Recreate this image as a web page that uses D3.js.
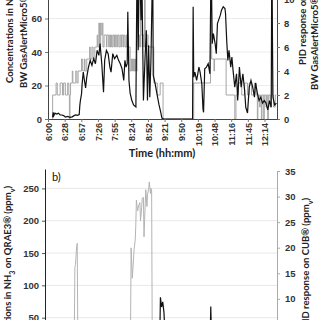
<!DOCTYPE html>
<html>
<head>
<meta charset="utf-8">
<title>NH3 and PID time series</title>
<script src="https://cdn.jsdelivr.net/npm/d3@7"></script>
<style>
  body { margin: 0; background: #fff; }
  svg { display: block; font-family: "Liberation Sans Narrow", Lato, sans-serif; }
  .axis text { font-weight: bold; fill: #333; font-size: 9.5px; }
  .title { font-weight: bold; fill: #222; font-size: 9.5px; }
</style>
</head>
<body>
<svg id="chart" width="320" height="320"></svg>
<script>
// x axis: fractions of a day, Excel style ticks every 0.02 day
var xTickDays = [0.25, 0.27, 0.29, 0.31, 0.33, 0.35, 0.37, 0.39, 0.41, 0.43, 0.45, 0.47, 0.49, 0.51];
var xTickLabels = ["6:00", "6:28", "6:57", "7:26", "7:55", "8:24", "8:52", "9:21", "9:50", "10:19", "10:48", "11:16", "11:45", "12:14"];

var topLeftTicks = [0, 20, 40, 60, 80];
var topRightTicks = [0, 2, 4, 6, 8, 10];
var botLeftTicks = [0, 50, 100, 150, 200, 250];
var botRightTicks = [0, 5, 10, 15, 20, 25, 30, 35];

// a) NH3 on BW GasAlertMicro5 (black, left axis)
var nh3Bw = [
  ["6:08", 1], ["6:09", 4], ["6:10", 2], ["6:12", 3.5], ["6:15", 3], ["6:18", 3.5], ["6:21", 2.5], ["6:24", 2.4],
  ["6:27", 2], ["6:30", 1.2], ["6:34", 1.5], ["6:38", 1], ["6:42", 1.3], ["6:45", 2], ["6:48", 2.4], ["6:51", 2.2],
  ["6:54", 2.6], ["6:55", 8], ["6:56", 11], ["6:58", 15], ["6:59", 21], ["7:01", 28], ["7:03", 23], ["7:05", 18.5],
  ["7:07", 25], ["7:10", 31], ["7:13", 35], ["7:16", 32], ["7:19", 36], ["7:22", 33], ["7:25", 41], ["7:28", 38],
  ["7:30", 45], ["7:33", 33], ["7:36", 16], ["7:38", 35], ["7:41", 41], ["7:44", 39], ["7:47", 31], ["7:49", 28],
  ["7:52", 39], ["7:55", 36], ["7:59", 38], ["8:02", 35], ["8:05", 33], ["8:08", 30], ["8:11", 23], ["8:13", 35],
  ["8:15", 31], ["8:17", 33], ["8:18", 64], ["8:20", 23], ["8:22", 15.5], ["8:25", 11], ["8:28", 8.4], ["8:32", 7.2],
  ["8:34", 95], ["8:36", 41], ["8:38", 95], ["8:41", 59], ["8:42", 95], ["8:45", 11], ["8:48", 38], ["8:50", 53],
  ["8:52", 11], ["8:54", 44], ["8:56", 13], ["8:58", 35], ["9:01", 95], ["9:02", 26], ["9:05", 21.5], ["9:09", 14],
  ["9:12", 8.4], ["9:15", 4], ["9:17", 0.6], ["9:20", 0], ["10:10", 0],
  ["10:11", 67], ["10:12", 25], ["10:14", 28], ["10:17", 23], ["10:19", 27], ["10:21", 31], ["10:23", 28], ["10:26", 21],
  ["10:28", 6], ["10:29", 4], ["10:31", 30], ["10:34", 31], ["10:37", 33], ["10:40", 27], ["10:42", 95], ["10:44", 45],
  ["10:46", 51], ["10:49", 45], ["10:51", 39], ["10:53", 57], ["10:55", 59], ["10:58", 62], ["11:00", 65], ["11:03", 67],
  ["11:06", 66], ["11:07", 63], ["11:09", 47], ["11:11", 35], ["11:13", 41], ["11:16", 31], ["11:18", 37], ["11:20", 29],
  ["11:23", 19], ["11:26", 27], ["11:28", 11], ["11:31", 31], ["11:34", 19], ["11:37", 27], ["11:40", 17], ["11:42", 7],
  ["11:45", 3.6], ["11:48", 19], ["11:51", 23], ["11:54", 19], ["11:57", 13], ["11:59", 21.5], ["12:02", 15.5], ["12:05", 11],
  ["12:08", 13], ["12:11", 9.5], ["12:14", 11], ["12:17", 9.5], ["12:20", 5.4], ["12:23", 11], ["12:26", 7], ["12:27", 95],
  ["12:29", 13], ["12:32", 8.4], ["12:35", 9.5]
];

// a) PID on BW GasAlertMicro5 (grey steps, right axis)
var pidBw = [
  ["6:07", 0], ["6:08", 2], ["6:14", 3], ["6:16", 2], ["6:21", 3], ["6:25", 2], ["6:27", 3], ["6:30", 2], ["6:34", 3],
  ["6:36", 2], ["6:37", 0], ["6:38", 2], ["6:39", 3], ["6:42", 4], ["6:43", 3], ["6:48", 4], ["6:50", 3], ["6:52", 4],
  ["6:58", 5], ["7:00", 4], ["7:03", 5], ["7:04", 4], ["7:07", 5], ["7:12", 6], ["7:13", 5], ["7:16", 6], ["7:18", 5],
  ["7:21", 6], ["7:25", 7], ["7:26", 6], ["7:28", 8], ["7:29", 6], ["7:31", 8], ["7:32", 7], ["7:34", 8], ["7:35", 6],
  ["7:37", 7], ["7:41", 6], ["7:42", 7], ["7:45", 6], ["7:46", 7], ["7:48", 6], ["7:49", 7], ["7:50", 6], ["7:52", 7],
  ["7:54", 6], ["7:55", 7], ["7:57", 6], ["7:58", 7], ["8:00", 6], ["8:01", 7], ["8:03", 6], ["8:05", 7], ["8:07", 6],
  ["8:08", 7], ["8:10", 6], ["8:11", 7], ["8:13", 6], ["8:15", 7], ["8:16", 6], ["8:22", 4], ["8:24", 5], ["8:25", 4],
  ["8:26", 5], ["8:27", 4], ["8:28", 5], ["8:29", 4], ["8:30", 5], ["8:31", 4], ["8:32", 5], ["8:33", 4], ["8:34", 7],
  ["8:35", 12], ["8:36", 6], ["8:38", 7], ["8:39", 6], ["8:40", 12], ["8:41", 7], ["8:43", 6], ["8:44", 7], ["8:46", 6],
  ["8:47", 12], ["8:48", 7], ["8:50", 6], ["8:51", 7], ["8:53", 6], ["9:03", 3], ["9:09", 2], ["9:14", 3], ["9:19", 0],
  ["10:10", 0], ["10:12", 3], ["10:41", 12], ["10:43", 5], ["10:47", 4], ["10:48", 5], ["11:08", 2], ["11:23", 0],
  ["11:25", 2], ["11:29", 3], ["11:35", 2], ["11:40", 3], ["11:45", 2], ["11:48", 3], ["11:52", 2], ["11:57", 3],
  ["12:00", 2], ["12:02", 0], ["12:03", 2], ["12:06", 1], ["12:07", 2], ["12:09", 0], ["12:10", 2], ["12:13", 0],
  ["12:14", 2], ["12:17", 1], ["12:18", 2], ["12:20", 0], ["12:21", 2], ["12:24", 1], ["12:25", 2], ["12:27", 12],
  ["12:28", 2], ["12:30", 1], ["12:33", 2], ["12:35", 2]
];

// b) NH3 on QRAE3 (grey, left axis)
var nh3Qrae = [
  ["6:30", 10], ["6:50", 20], ["6:51", 128], ["6:52", 132], ["6:54", 160], ["6:55", 165], ["6:56", 20], ["7:30", 25],
  ["8:26", 30], ["8:27", 158], ["8:29", 111], ["8:31", 139], ["8:32", 155], ["8:34", 170], ["8:35", 193], ["8:36", 232],
  ["8:38", 215], ["8:40", 224], ["8:42", 228], ["8:43", 200], ["8:45", 220], ["8:46", 235], ["8:48", 236], ["8:49", 175],
  ["8:50", 200], ["8:52", 248], ["8:54", 222], ["8:55", 240], ["8:57", 250], ["8:58", 260], ["9:00", 242], ["9:01", 250],
  ["9:02", 246], ["9:03", 30], ["9:30", 5]
];

// b) PID on CUB (black, right axis)
var pidCub = [
  ["9:10", 2], ["9:16", 3], ["9:17", 10.3], ["9:19", 8.4], ["9:21", 9.4], ["9:23", 7.4], ["9:25", 3], ["10:00", 2],
  ["10:42", 3], ["10:43", 8.5], ["10:44", 3], ["11:00", 2]
];

function toDay(s) {
  var p = s.split(":").map(Number);
  return (p[0] * 60 + p[1] + (p[2] || 0) / 60) / 1440;
}

var svg = d3.select("#chart");

// ---------- panel a ----------
var xTop = d3.scaleLinear().domain([0.25, 0.525]).range([48, 277]);
var yTopL = d3.scaleLinear().domain([0, 80]).range([119, -15]);
var yTopR = d3.scaleLinear().domain([0, 10]).range([119, -1]);

svg.append("g").selectAll("line")
  .data(topLeftTicks.filter(function (d) { return d > 0; }))
  .join("line")
  .attr("x1", 48).attr("x2", 277)
  .attr("y1", function (d) { return yTopL(d); })
  .attr("y2", function (d) { return yTopL(d); })
  .attr("stroke", "#ececec");

var lineTopR = d3.line()
  .x(function (d) { return xTop(toDay(d[0])); })
  .y(function (d) { return yTopR(d[1]); })
  .curve(d3.curveStepAfter);
svg.append("path").datum(pidBw)
  .attr("d", lineTopR)
  .attr("fill", "none").attr("stroke", "#a6a6a6").attr("stroke-width", 1);

var lineTopL = d3.line()
  .x(function (d) { return xTop(toDay(d[0])); })
  .y(function (d) { return yTopL(d[1]); });
svg.append("path").datum(nh3Bw)
  .attr("d", lineTopL)
  .attr("fill", "none").attr("stroke", "#111").attr("stroke-width", 1.2);

var axL = svg.append("g").attr("class", "axis").attr("transform", "translate(48,0)")
  .call(d3.axisLeft(yTopL).tickValues(topLeftTicks).tickSize(3).tickSizeOuter(0).tickPadding(3));
var axR = svg.append("g").attr("class", "axis").attr("transform", "translate(277,0)")
  .call(d3.axisRight(yTopR).tickValues(topRightTicks).tickSize(3).tickSizeOuter(0).tickPadding(4));
var axX = svg.append("g").attr("class", "axis").attr("transform", "translate(0,119)")
  .call(d3.axisBottom(xTop).tickValues(xTickDays)
    .tickFormat(function (d, i) { return xTickLabels[i]; })
    .tickSize(3).tickSizeOuter(0));
axX.selectAll("text")
  .attr("transform", "rotate(-90)")
  .attr("text-anchor", "end")
  .attr("x", -4).attr("y", 0).attr("dy", "0.35em")
  .style("font-size", "9px");

[axL, axR, axX].forEach(function (a) {
  a.select(".domain").attr("stroke", "#444");
  a.selectAll(".tick line").attr("stroke", "#777");
});

svg.append("text").attr("class", "title")
  .attr("x", 162).attr("y", 157).attr("text-anchor", "middle")
  .style("font-size", "11px")
  .text("Time (hh:mm)");

var tl1 = svg.append("text").attr("class", "title")
  .attr("transform", "translate(13,83) rotate(-90)");
tl1.append("tspan").text("Concentrations in NH");
tl1.append("tspan").attr("baseline-shift", "sub").style("font-size", "7px").text("3");
tl1.append("tspan").text(" on");
svg.append("text").attr("class", "title")
  .attr("transform", "translate(27,88) rotate(-90)")
  .text("BW GasAlertMicro5®");

svg.append("text").attr("class", "title")
  .attr("transform", "translate(306,65) rotate(-90)")
  .text("PID response on");
svg.append("text").attr("class", "title")
  .attr("transform", "translate(318,90) rotate(-90)")
  .text("BW GasAlertMicro5®");

// ---------- panel b ----------
var xBot = d3.scaleLinear().domain([0.25, 0.525]).range([45, 277]);
var yBotL = d3.scaleLinear().domain([0, 280]).range([350, 169]);
var yBotR = d3.scaleLinear().domain([0, 35]).range([350, 171]);

svg.append("g").selectAll("line")
  .data(botLeftTicks.filter(function (d) { return d > 0; }))
  .join("line")
  .attr("x1", 45).attr("x2", 277)
  .attr("y1", function (d) { return yBotL(d); })
  .attr("y2", function (d) { return yBotL(d); })
  .attr("stroke", "#e8e8e8");

var lineBotL = d3.line()
  .x(function (d) { return xBot(toDay(d[0])); })
  .y(function (d) { return yBotL(d[1]); });
svg.append("path").datum(nh3Qrae)
  .attr("d", lineBotL)
  .attr("fill", "none").attr("stroke", "#b4b4b4").attr("stroke-width", 1);

var lineBotR = d3.line()
  .x(function (d) { return xBot(toDay(d[0])); })
  .y(function (d) { return yBotR(d[1]); });
svg.append("path").datum(pidCub)
  .attr("d", lineBotR)
  .attr("fill", "none").attr("stroke", "#111").attr("stroke-width", 1.2);

var bL = svg.append("g").attr("class", "axis").attr("transform", "translate(45,0)")
  .call(d3.axisLeft(yBotL).tickValues(botLeftTicks).tickSize(3).tickSizeOuter(0).tickPadding(3));
bL.select(".domain").attr("stroke", "#222");
bL.selectAll(".tick line").attr("stroke", "#555");
var bR = svg.append("g").attr("class", "axis").attr("transform", "translate(277,0)")
  .call(d3.axisRight(yBotR).tickValues(botRightTicks).tickSize(3).tickSizeOuter(0).tickPadding(5));
bR.select(".domain").attr("stroke", "#aaa");
bR.selectAll(".tick line").attr("stroke", "#aaa");

svg.append("text")
  .attr("x", 52).attr("y", 181)
  .style("font-size", "11px").attr("fill", "#111")
  .text("b)");

var bl = svg.append("text").attr("class", "title")
  .attr("text-anchor", "end")
  .attr("transform", "translate(10.5,186) rotate(-90)");
bl.append("tspan").text("Concentrations in NH");
bl.append("tspan").attr("baseline-shift", "sub").style("font-size", "7px").text("3");
bl.append("tspan").text(" on QRAE3® (ppm");
bl.append("tspan").attr("baseline-shift", "sub").style("font-size", "7px").text("v");
bl.append("tspan").text(")");

var br = svg.append("text").attr("class", "title")
  .attr("text-anchor", "end")
  .attr("transform", "translate(309,198) rotate(-90)");
br.append("tspan").text("PID response on CUB® (ppm");
br.append("tspan").attr("baseline-shift", "sub").style("font-size", "7px").text("v");
br.append("tspan").text(")");
</script>
</body>
</html>
